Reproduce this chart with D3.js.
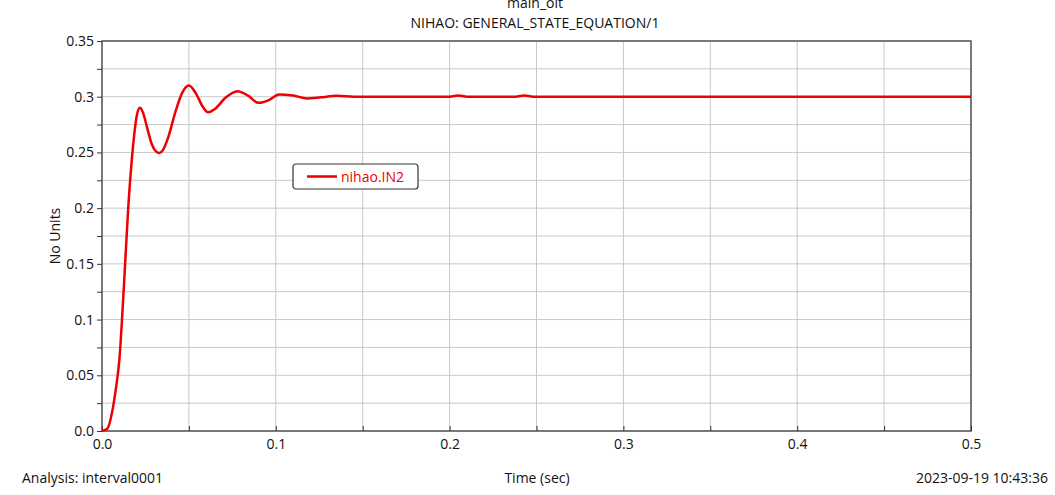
<!DOCTYPE html>
<html lang="en">
<head>
<meta charset="utf-8" />
<title>main_olt</title>
<script src="https://cdn.jsdelivr.net/npm/d3@7"></script>
<style>
  body { margin: 0; background: #fff; font-family: "Open Sans", Roboto, sans-serif; }
  text { fill: #111; }
</style>
</head>
<body>
<svg id="chart" width="1055" height="495"></svg>
<script>
// time (sec) and value
const times = [0, 0.003, 0.0063, 0.008, 0.01, 0.0125, 0.015, 0.018, 0.02, 0.0218, 0.0235, 0.026, 0.0285, 0.031, 0.033, 0.035, 0.038, 0.042, 0.046, 0.050, 0.054, 0.058, 0.061, 0.065, 0.071, 0.078, 0.084, 0.090, 0.096, 0.102, 0.110, 0.118, 0.126, 0.135, 0.145, 0.160, 0.200, 0.205, 0.210, 0.238, 0.243, 0.248, 0.3, 0.4, 0.5];
const values = [0, 0.002, 0.021, 0.038, 0.064, 0.127, 0.198, 0.258, 0.283, 0.290, 0.286, 0.272, 0.258, 0.251, 0.2495, 0.252, 0.263, 0.285, 0.303, 0.310, 0.303, 0.291, 0.286, 0.289, 0.299, 0.305, 0.301, 0.2945, 0.297, 0.302, 0.301, 0.2985, 0.2995, 0.3008, 0.3, 0.3, 0.3, 0.3012, 0.3, 0.3, 0.3012, 0.3, 0.3, 0.3, 0.3];
const xTicks = [0, 0.1, 0.2, 0.3, 0.4, 0.5];
const yTicks = [0, 0.05, 0.1, 0.15, 0.2, 0.25, 0.3, 0.35];
const seriesName = "nihao.IN2";

const svg = d3.select("#chart");
const m = { left: 102, right: 971, top: 41, bottom: 431 };
const x = d3.scaleLinear().domain([0, 0.5]).range([m.left, m.right]);
const y = d3.scaleLinear().domain([0, 0.35]).range([m.bottom, m.top]);

// grid
const vGrid = d3.range(0, 0.5001, 0.05);
const hGrid = d3.range(0, 0.3501, 0.025);
svg.append("g").selectAll("line").data(vGrid).join("line")
  .attr("x1", d => x(d)).attr("x2", d => x(d)).attr("y1", m.top).attr("y2", m.bottom)
  .attr("stroke", "#c8c8c8");
svg.append("g").selectAll("line").data(hGrid).join("line")
  .attr("x1", m.left).attr("x2", m.right).attr("y1", d => y(d)).attr("y2", d => y(d))
  .attr("stroke", "#c8c8c8");

svg.append("rect").attr("x", m.left).attr("y", m.top)
  .attr("width", m.right - m.left).attr("height", m.bottom - m.top)
  .attr("fill", "none").attr("stroke", "#555").attr("stroke-width", 1.5);

// axes
const fmt = d => d === 0 ? "0.0" : d3.format("")(+d.toFixed(3));
const xAxis = svg.append("g").attr("transform", `translate(0,${m.bottom})`)
  .call(d3.axisBottom(x).tickValues(d3.range(0, 0.5001, 0.05)).tickSize(-5)
    .tickFormat(d => xTicks.some(t => Math.abs(t - d) < 1e-9) ? fmt(d) : ""));
const yAxis = svg.append("g").attr("transform", `translate(${m.left},0)`)
  .call(d3.axisLeft(y).tickValues(hGrid).tickSize(5)
    .tickFormat(d => yTicks.some(t => Math.abs(t - d) < 1e-9) ? fmt(d) : ""));
[xAxis, yAxis].forEach(a => {
  a.select(".domain").remove();
  a.selectAll("line").attr("stroke", "#333");
  a.selectAll("text").attr("font-size", 14).attr("font-family", "Open Sans, sans-serif").attr("fill", "#111");
});
xAxis.selectAll("text").attr("dy", "1.1em");

// line
svg.append("path").datum(times.map((t, i) => [t, values[i]]))
  .attr("fill", "none").attr("stroke", "#ee0000").attr("stroke-width", 2.5)
  .attr("d", d3.line().x(d => x(d[0])).y(d => y(d[1])).curve(d3.curveMonotoneX));

// titles
svg.append("text").attr("x", 535).attr("y", 8).attr("text-anchor", "middle").attr("font-size", 14).text("main_olt");
svg.append("text").attr("x", 535).attr("y", 28).attr("text-anchor", "middle").attr("font-size", 14).text("NIHAO: GENERAL_STATE_EQUATION/1");
svg.append("text").attr("transform", "translate(60,236) rotate(-90)").attr("text-anchor", "middle").attr("font-size", 14).text("No Units");
svg.append("text").attr("x", 537).attr("y", 483).attr("text-anchor", "middle").attr("font-size", 14).text("Time (sec)");
svg.append("text").attr("x", 22).attr("y", 483).attr("font-size", 14).text("Analysis:  interval0001");
svg.append("text").attr("x", 1048).attr("y", 483).attr("text-anchor", "end").attr("font-size", 14).text("2023-09-19 10:43:36");

// legend
const lg = svg.append("g").attr("transform", "translate(293,164)");
lg.append("rect").attr("width", 125).attr("height", 25).attr("rx", 3)
  .attr("fill", "#fff").attr("stroke", "#333").attr("stroke-width", 1.2);
lg.append("line").attr("x1", 14).attr("x2", 44).attr("y1", 12.5).attr("y2", 12.5)
  .attr("stroke", "#ee0000").attr("stroke-width", 2.5);
lg.append("text").attr("x", 48).attr("y", 18).attr("font-size", 14).style("fill", "#ee0000").text(seriesName);
</script>
</body>
</html>
